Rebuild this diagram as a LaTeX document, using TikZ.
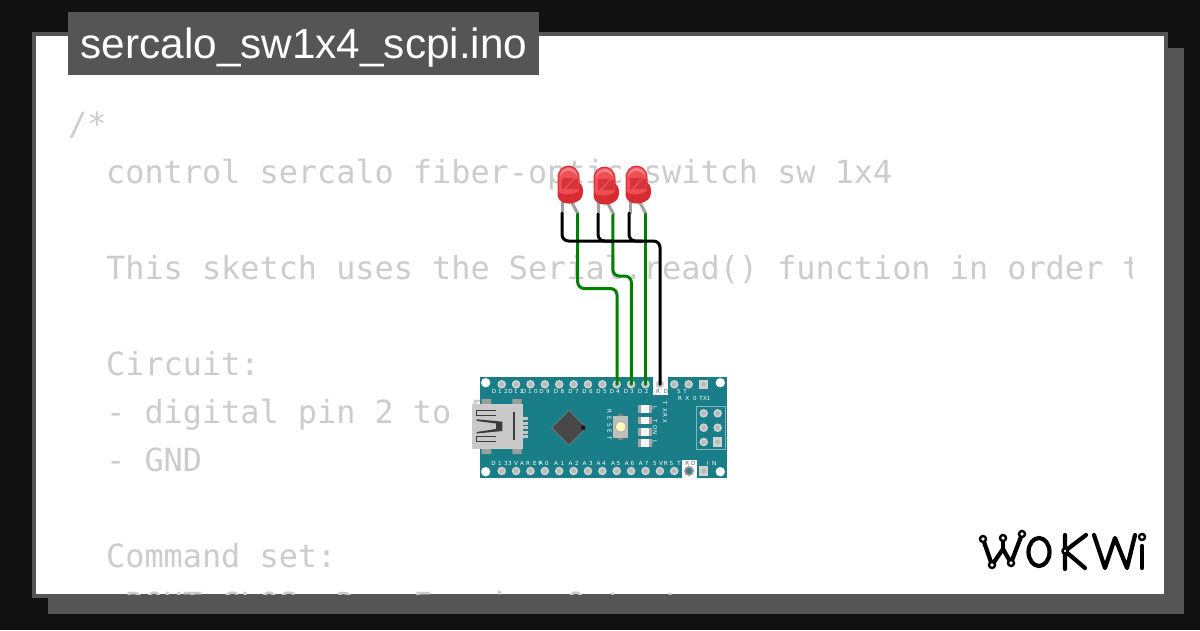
\documentclass[tikz,border=0pt]{standalone}
\usepackage{fontspec}
\setmainfont{Liberation Sans}
\newfontfamily\codefont{DejaVu Sans Mono}
\newfontfamily\labfont{DejaVu Sans}
\definecolor{bgc}{HTML}{111111}
\definecolor{framec}{HTML}{555555}
\definecolor{codec}{HTML}{CCCCCC}
\definecolor{pcb}{HTML}{1A7E88}
\definecolor{wireg}{HTML}{008000}
\definecolor{ledbase}{HTML}{D62C32}
\definecolor{ledtop}{HTML}{EE4E54}
\definecolor{leddark}{HTML}{D4343A}
\definecolor{legc}{HTML}{A0A0A0}
\definecolor{padout}{HTML}{CDD1D1}
\definecolor{padin}{HTML}{B4BABA}
\definecolor{usbc}{HTML}{C9C9C9}
\definecolor{tabc}{HTML}{9AA0A0}
\definecolor{symc}{HTML}{3C3C3C}
\tikzset{
 codeline/.style={anchor=base west,inner sep=0pt,text=codec,font=\codefont\fontsize{31.85}{32}\selectfont},
 wire/.style={line width=3pt,rounded corners=6.5pt,line cap=round},
 blk/.style={wire,draw=black},
 grn/.style={wire,draw=wireg},
 pinlab/.style={inner sep=0pt,text=white,font=\labfont\fontsize{5.6}{6}\selectfont},
 darklab/.style={inner sep=0pt,text=black!60,font=\labfont\fontsize{5.6}{6}\selectfont},
 logo/.style={draw=black,line width=4.2pt,line cap=round,line join=round},
 logodot/.style={draw=black,fill=white,line width=2.4pt},
}
\newcommand{\padpin}[2]{\fill[padout] (#1,#2) circle (4.3); \fill[padin] (#1,#2) circle (2.3);}
\newcommand{\sqpin}[2]{\fill[padout] (#1-4.7,#2-4.7) rectangle (#1+4.7,#2+4.7); \fill[padin] (#1,#2) circle (2.3);}
\newcommand{\ledpart}[2]{%
 \begin{scope}[shift={(#1,#2)}]
 \draw[legc,line width=3pt] (-7,34) -- (-7,49);
 \draw[legc,line width=3pt] (1,34) -- (9,49);
 \fill[ledbase] (-11.5,13) .. controls (-11.5,-3.5) and (10.5,-3.5) .. (10.5,13) -- (10.5,18) .. controls (15.5,21) and (15.5,33) .. (9,36) .. controls (3,40) and (-9,40) .. (-11.5,31) -- cycle;
 \fill[ledtop] (-10.5,13) .. controls (-10.5,-2) and (9.5,-2) .. (9.5,13) -- (9.5,26) .. controls (3,30) and (-5,31) .. (-10.5,27) -- cycle;
 \fill[leddark] (-7,13) -- (5,13) -- (-7,25) -- cycle;
 \fill[leddark] (6,14) -- (9,14) -- (9,24) -- (-3,24) -- cycle;
 \fill[white,opacity=.28] (-9,12) .. controls (-9,0) and (8,0) .. (8,11) .. controls (2,3.5) and (-5,4) .. (-9,12) -- cycle;
 \end{scope}}
\begin{document}
\begin{tikzpicture}[x=1pt,y=-1pt]
\useasboundingbox (0,0) rectangle (1200,630);
\fill[bgc] (0,0) rectangle (1200,630);
\fill[framec] (48,48) rectangle (1184,614);
\fill[framec] (32,32) rectangle (1168,598);
\fill[white] (36,36) rectangle (1164,594);
\begin{scope}
\clip (68,36) rectangle (1132,594);
\node[codeline] (c1) at (68,135) {/*};
\node[codeline] (c2) at (106,183) {control sercalo fiber-optic switch sw 1x4};
\node[codeline] (c3) at (106,279) {This sketch uses the Serial.read() function in order to};
\node[codeline] (c4) at (106,375) {Circuit:};
\node[codeline] (c5) at (106,423) {- digital pin 2 to 5};
\node[codeline] (c6) at (106,471) {- GND};
\node[codeline] (c7) at (106,567) {Command set:};
\node[codeline] (c8) at (106,615) {~ROUT:CLOS~~Dev~Fan-in~~Output};
\end{scope}
\fill[framec] (68,12) rectangle (539,75);
\node[anchor=base west,inner sep=0pt,text=white,font=\fontsize{42.3}{42}\selectfont] (title) at (80.5,58) {sercalo\_sw1x4\_scpi.ino};
% board
\fill[pcb] (480,377.3) rectangle (727,477.5);
\fill[white] (653.3,377.3) rectangle (667.7,395);
\fill[white] (682.3,460) rectangle (696.7,477.5);
\fill[white] (485.7,382.7) circle (4.7) (485.7,471.7) circle (4.7) (720.3,382.7) circle (4.7) (720.3,471.7) circle (4.7);
\foreach \i in {0,...,13}{\pgfmathsetmacro\xx{501.7+14.38*\i}\padpin{\xx}{384.3}\padpin{\xx}{471}}
\fill[gray!80] (689,471) circle (5);
\fill[pcb!70!gray] (689,471) circle (3);
\sqpin{703.7}{384.3}
\sqpin{703.7}{471}
% labels: top row
\foreach \t/\x in {D/494,1/500,2/506,D/510.5,1/516,1/521.5,D/524,1/530,0/536,D/541.5,9/548,D/556,8/562.5,D/570.5,7/577,D/584.5,6/591,D/598.5,5/605,D/612,4/618,D/626,3/632,D/640,2/646.7,S/679,T/685}
 \node[pinlab] at (\x,391.7) {\t};
\foreach \t/\x in {R/658,D/665.7}
 \node[darklab] at (\x,391.7) {\t};
\foreach \t/\x in {R/680,X/687.3,0/695,T/701,X/705,1/708.5}
 \node[pinlab] at (\x,398) {\t};
% labels: bottom row
\foreach \t/\x in {D/493.5,1/500,3/506,3/510,V/516,A/522,R/528,E/535,F/540,A/541,0/547,A/556,1/562.5,A/570.5,2/577,A/584.5,3/591,A/598.5,4/604,A/613,5/618.5,A/626.7,6/632.5,A/640.7,7/646.7,5/655,V/661,R/665.7,S/671.5,T/679,I/707.7,N/714.3}
 \node[pinlab] at (\x,463.3) {\t};
\foreach \t/\x in {R/687.3,D/693.3}
 \node[darklab] at (\x,463.3) {\t};
% ICSP
\draw[white!45!pcb,line width=.8pt] (696.7,406) rectangle (725.7,449.3);
\foreach \xx/\yy in {703.7/413.3,717.7/413.3,703.7/427.7,717.7/427.7,703.7/442}
 {\padpin{\xx}{\yy}}
\sqpin{717.7}{442}
% chip
\fill[gray] (569,410) -- (586.7,427.7) -- (569,445.4) -- (551.3,427.7) -- cycle;
\fill[black!72] (569,411) -- (585.7,427.7) -- (569,444.4) -- (552.3,427.7) -- cycle;
\fill[black!90] (583.3,427.7) circle (2.4);
% button
\fill[gray] (618,414) rectangle (623,440);
\fill[lightgray] (613.3,415.7) rectangle (628.3,438.3);
\fill[yellow!28!white,draw=gray!70,line width=.6pt] (620.7,426.7) circle (5.4);
% board LEDs
\foreach \yy in {408.8,420.5,432,443}{\fill[white!92!gray] (637.7,\yy-3.8) rectangle (651.7,\yy+3.8);\fill[gray!70] (637.7,\yy-3.8) rectangle (640.5,\yy+3.8);\fill[gray!70] (648.9,\yy-3.8) rectangle (651.7,\yy+3.8);}
\foreach \t/\yy in {R/411.7,E/418.3,S/425,E/431.7,T/438.3}\node[pinlab,rotate=-90] at (609.3,\yy) {\t};
\foreach \t/\yy in {L/408.3,T/421.7,O/427.5,N/432.7,L/441.7}\node[pinlab,rotate=-90] at (655,\yy) {\t};
\foreach \t/\yy in {T/403.3,X/410,R/415.5,X/421.7}\node[pinlab,rotate=-90] at (665,\yy) {\t};
% USB
\fill[tabc] (481.7,399) rectangle (491,454) (512.3,399) rectangle (521.7,454);
\foreach \yy in {417,421.5,426,430.5,435}{\fill[gray!45] (522.7,\yy) rectangle (528.3,\yy+3);}
\fill[usbc,draw=lightgray!80!white,line width=.6pt] (472.7,404.3) rectangle (522.7,448.3);
\fill[symc] (513.3,412.3) rectangle (514.9,440);
\draw[symc,line width=1.2pt] (496,410.7) -- (476.7,410.7) -- (476.7,415.7) -- (496,415.7);
\draw[symc,line width=1.2pt] (496,436.7) -- (476.7,436.7) -- (476.7,441.7) -- (496,441.7);
\fill[symc] (476.7,419.3) -- (496,421) -- (502.3,421.7) -- (502.3,431) -- (476.7,433.5) -- (476.7,432) -- (496,429) -- (496,423.5) -- (476.7,421) -- cycle;
% LEDs
\ledpart{569}{165}
\ledpart{605}{166}
\ledpart{637}{165}
% wires
\coordinate (p2) at (617,384.3);\coordinate (p3) at (631.4,384.3);\coordinate (p4) at (645.8,384.3);\coordinate (gnd) at (660,384.3);
\coordinate (l1a) at (577.7,214);\coordinate (l2a) at (612.8,215);\coordinate (l3a) at (645.8,214);
\coordinate (l1c) at (562,213);\coordinate (l2c) at (598,214);\coordinate (l3c) at (629,213);
\draw[grn] (l1a) -- (577.7,288.5) -- (617,288.5) -- (p2);
\draw[grn] (l2a) -- (612.8,276) -- (631.4,276) -- (p3);
\draw[grn] (l3a) -- (p4);
\draw[blk] (l1c) -- (562,241) -- (660,241) -- (gnd);
\draw[blk] (l2c) -- (598,241) -- (612,241);
\draw[blk] (l3c) -- (629,241) -- (642,241);
% logo
\draw[logo] (983,539) -- (992,565) -- (1003,549) -- (1011,563) -- (1022,534);
\draw[logo] (1003,549) -- (1003,538);
\draw[logodot] (983,539) circle (3) (1003,538) circle (3) (1022,534) circle (3) (992,565) circle (3) (1011,563) circle (3);
\draw[logo] (1039,552) ellipse (10.5 and 14);
\draw[logo] (1065,535) -- (1065,569) (1065,551) -- (1086,535) (1065,551) -- (1085,568);
\draw[logodot] (1065,551) circle (2.5);
\draw[logo] (1094,535) -- (1105,568) -- (1115,538) -- (1127,568) -- (1135,535);
\draw[logo] (1142,546) -- (1142,568);
\draw[logodot] (1142,537) circle (3);
\end{tikzpicture}
\end{document}
